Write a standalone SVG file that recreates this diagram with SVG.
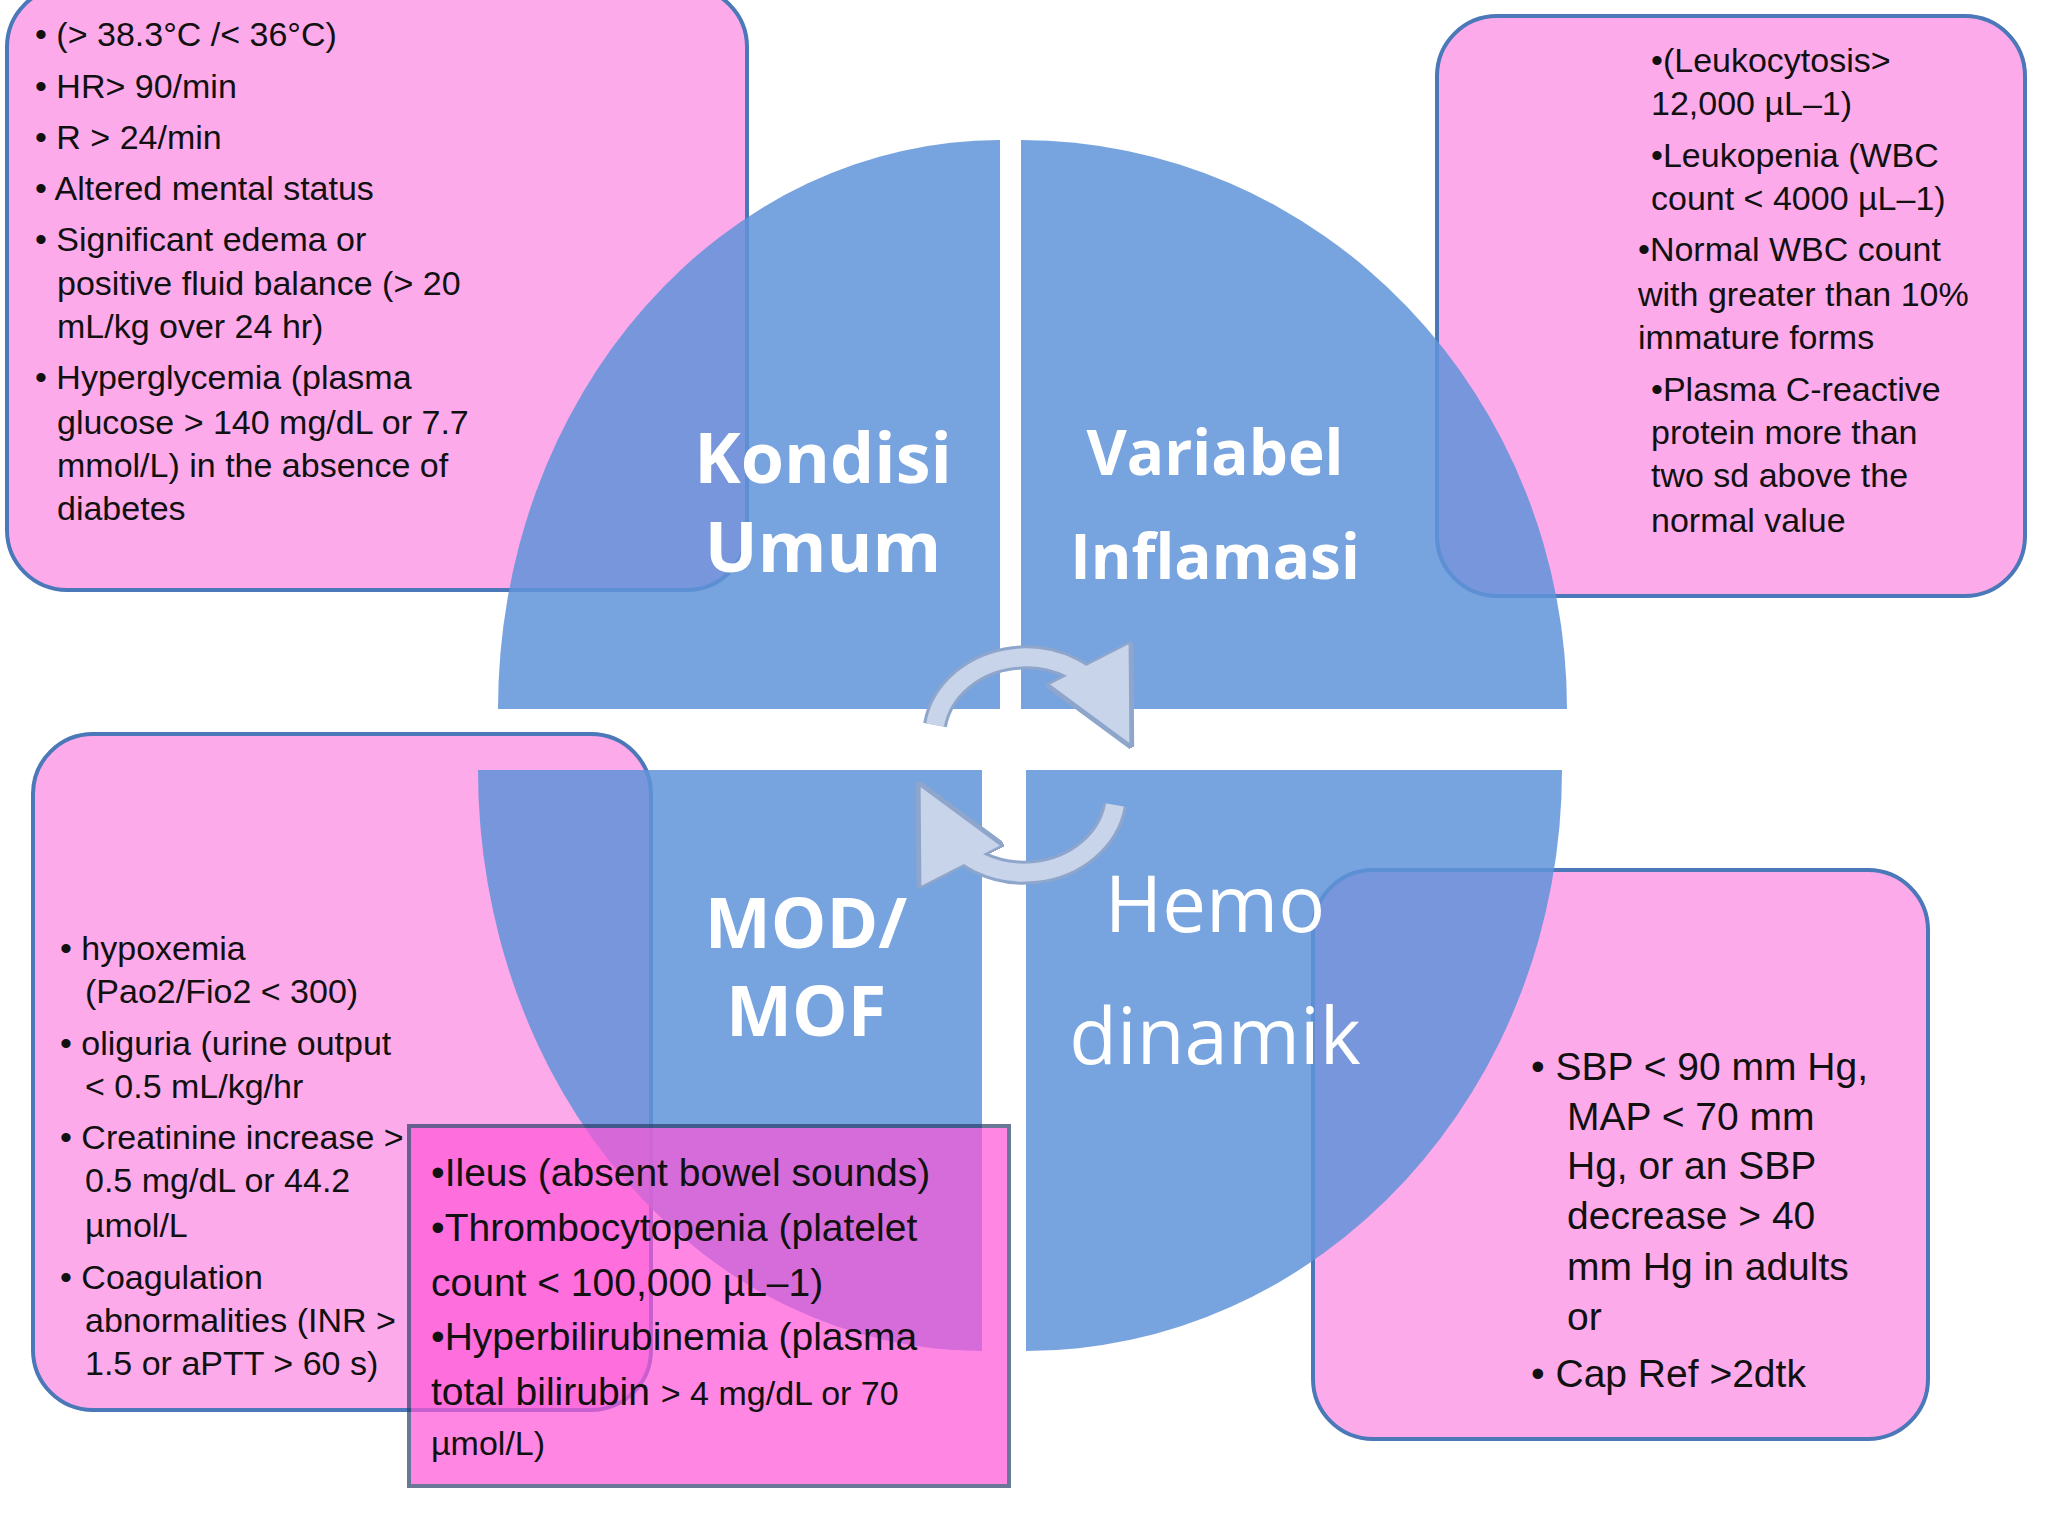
<svg xmlns="http://www.w3.org/2000/svg" width="2048" height="1536" viewBox="0 0 2048 1536">
<style>
.box{fill:#fdaaea;stroke:#4a78b8;stroke-width:4}
.q{fill:#5f93d8;opacity:0.85}
.t{font-family:"Liberation Sans",Arial,sans-serif;font-size:34px;fill:#111}
.m{font-family:"Liberation Sans",Arial,sans-serif;font-size:39px;fill:#111}
.w{font-family:"Open Sans",sans-serif;font-weight:bold;fill:#fff;text-anchor:middle}
.h{font-family:"Open Sans",sans-serif;fill:#fff;text-anchor:middle;font-size:78px}
</style>
<defs>
<marker id="ah" markerWidth="4" markerHeight="4" refX="2" refY="2" orient="auto" markerUnits="strokeWidth">
<path d="M0,0 L4,2 L0,4 Z" fill="#c8d4ea" stroke="#8fa6cc" stroke-width="0.2"/>
</marker>
</defs>
<rect width="2048" height="1536" fill="#fff"/>
<g id="box-tl"><rect class="box" x="7" y="-13" width="740" height="603" rx="60"/></g>
<g id="box-tr"><rect class="box" x="1437" y="16" width="588" height="580" rx="60"/></g>
<g id="box-bl"><rect class="box" x="33" y="734" width="618" height="676" rx="60"/></g>
<g id="box-br"><rect class="box" x="1313" y="870" width="615" height="569" rx="60"/></g>
<g id="quadrants">
<path class="q" d="M1000,709 L498,709 A502,569 0 0 1 1000,140 Z"/>
<path class="q" d="M1021,709 L1021,140 A546,569 0 0 1 1567,709 Z"/>
<path class="q" d="M982,770 L478,770 A504,581 0 0 0 982,1351 Z"/>
<path class="q" d="M1026,770 L1562,770 A536,581 0 0 1 1026,1351 Z"/>
</g>
<g id="connectors" fill="none">
<path d="M935,725 A92,80 0 0 1 1110,705" stroke="#8fa6cc" stroke-width="24" marker-end="url(#ah)"/>
<path d="M935,725 A92,80 0 0 1 1110,705" stroke="#c8d4ea" stroke-width="18"/>
<path d="M1115,805 A92,80 0 0 1 940,825" stroke="#8fa6cc" stroke-width="24" marker-end="url(#ah)"/>
<path d="M1115,805 A92,80 0 0 1 940,825" stroke="#c8d4ea" stroke-width="18"/>
</g>
<g id="box-mid"><rect x="409" y="1126" width="600" height="360" fill="#ff55d8" opacity="0.7" stroke="#2a3f6a" stroke-width="4"/></g>
<g id="labels">
<text class="w" font-size="70" x="823" y="483">Kondisi</text>
<text class="w" font-size="70" x="823" y="572">Umum</text>
<text class="w" font-size="62" x="1215" y="475">Variabel</text>
<text class="w" font-size="62" x="1215" y="579">Inflamasi</text>
<text class="w" font-size="70" x="806" y="948">MOD/</text>
<text class="w" font-size="70" x="806" y="1036">MOF</text>
<text class="h" x="1215" y="932">Hemo</text>
<text class="h" x="1215" y="1064">dinamik</text>
</g>
<g id="text-tl" class="t">
<text x="35" y="46">•  (&gt; 38.3°C /&lt; 36°C)</text>
<text x="35" y="98">• HR&gt; 90/min</text>
<text x="35" y="149">• R &gt; 24/min</text>
<text x="35" y="200">• Altered mental status</text>
<text x="35" y="251">• Significant edema or</text>
<text x="57" y="295">positive fluid balance (&gt; 20</text>
<text x="57" y="338">mL/kg over 24 hr)</text>
<text x="35" y="389">• Hyperglycemia (plasma</text>
<text x="57" y="434">glucose &gt; 140 mg/dL or 7.7</text>
<text x="57" y="477">mmol/L) in the absence of</text>
<text x="57" y="520">diabetes</text>
</g>
<g id="text-tr" class="t">
<text x="1651" y="72">•(Leukocytosis&gt;</text>
<text x="1651" y="115">12,000 µL–1)</text>
<text x="1651" y="167">•Leukopenia (WBC</text>
<text x="1651" y="210">count &lt; 4000 µL–1)</text>
<text x="1638" y="261">•Normal WBC count</text>
<text x="1638" y="306">with greater than 10%</text>
<text x="1638" y="349">immature forms</text>
<text x="1651" y="401">•Plasma C-reactive</text>
<text x="1651" y="444">protein more than</text>
<text x="1651" y="487">two sd above the</text>
<text x="1651" y="532">normal value</text>
</g>
<g id="text-bl" class="t">
<text x="60" y="960">• hypoxemia</text>
<text x="85" y="1003">(Pao2/Fio2 &lt; 300)</text>
<text x="60" y="1055">• oliguria (urine output</text>
<text x="85" y="1098">&lt; 0.5 mL/kg/hr</text>
<text x="60" y="1149">• Creatinine increase &gt;</text>
<text x="85" y="1192">0.5 mg/dL or 44.2</text>
<text x="85" y="1237">µmol/L</text>
<text x="60" y="1289">• Coagulation</text>
<text x="85" y="1332">abnormalities (INR &gt;</text>
<text x="85" y="1375">1.5 or aPTT &gt; 60 s)</text>
</g>
<g id="text-mid" class="m">
<text x="431" y="1186">•Ileus (absent bowel sounds)</text>
<text x="431" y="1241">•Thrombocytopenia (platelet</text>
<text x="431" y="1296">count &lt; 100,000 µL–1)</text>
<text x="431" y="1350">•Hyperbilirubinemia (plasma</text>
<text x="431" y="1405">total bilirubin <tspan font-size="34">&gt; 4 mg/dL or 70</tspan></text>
<text x="431" y="1455" font-size="34">µmol/L)</text>
</g>
<g id="text-br" class="m">
<text x="1531" y="1080">•  SBP &lt; 90 mm Hg,</text>
<text x="1567" y="1130">MAP &lt; 70 mm</text>
<text x="1567" y="1179">Hg, or an SBP</text>
<text x="1567" y="1229">decrease &gt; 40</text>
<text x="1567" y="1280">mm Hg in adults</text>
<text x="1567" y="1330">or</text>
<text x="1531" y="1387">•  Cap Ref &gt;2dtk</text>
</g>
</svg>
